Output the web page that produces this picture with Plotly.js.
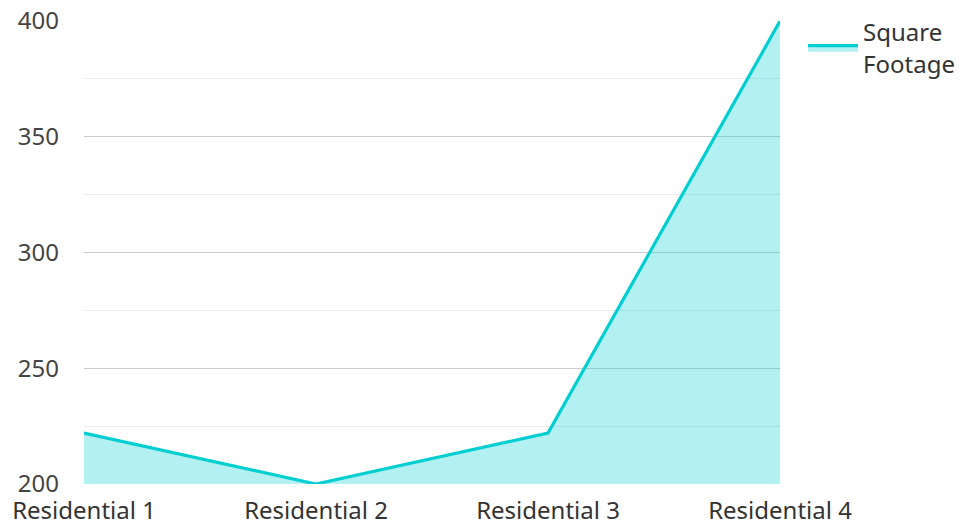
<!DOCTYPE html>
<html>
<head>
<meta charset="utf-8">
<script src="https://cdn.plot.ly/plotly-3.0.1.min.js"></script>
<style>html,body{margin:0;padding:0;background:#fff;}#chart{width:961px;height:524px;}</style>
</head>
<body>
<div id="chart"></div>
<script>
const categories = ["Residential 1", "Residential 2", "Residential 3", "Residential 4"];
const squareFootage = [222, 200, 222, 400];
const seriesName = "Square<br>Footage";

const trace = {
  x: categories,
  y: squareFootage,
  type: "scatter",
  mode: "lines",
  name: seriesName,
  fill: "tozeroy",
  fillcolor: "rgba(0,206,209,0.3)",
  line: {color: "#00CED1", width: 3.2}
};

const layout = {
  width: 961,
  height: 524,
  margin: {l: 84, r: 181, t: 21, b: 40},
  paper_bgcolor: "#fff",
  plot_bgcolor: "#fff",
  font: {family: "Noto Sans, Open Sans, sans-serif", size: 24, color: "#444"},
  showlegend: true,
  legend: {xref: "container", yref: "container", x: 0.8356, xanchor: "left", y: 0.981, yanchor: "top", itemwidth: 50, font: {size: 24, color: "#333"}, bgcolor: "rgba(0,0,0,0)"},
  xaxis: {
    type: "category",
    range: [0, 3],
    showgrid: false,
    zeroline: false,
    showline: false,
    ticks: "",
    ticklabelstandoff: 10,
    tickfont: {size: 24, color: "#333"}
  },
  yaxis: {
    range: [200, 400],
    dtick: 50,
    tick0: 0,
    showgrid: true,
    gridcolor: "#cccccc",
    gridwidth: 1,
    zeroline: false,
    showline: false,
    ticks: "",
    ticklabelstandoff: 24,
    tickfont: {size: 24, color: "#444"},
    minor: {dtick: 25, showgrid: true, gridcolor: "#eaeaea", gridwidth: 1}
  }
};

Plotly.newPlot("chart", [trace], layout, {displayModeBar: false, staticPlot: true});
</script>
</body>
</html>
